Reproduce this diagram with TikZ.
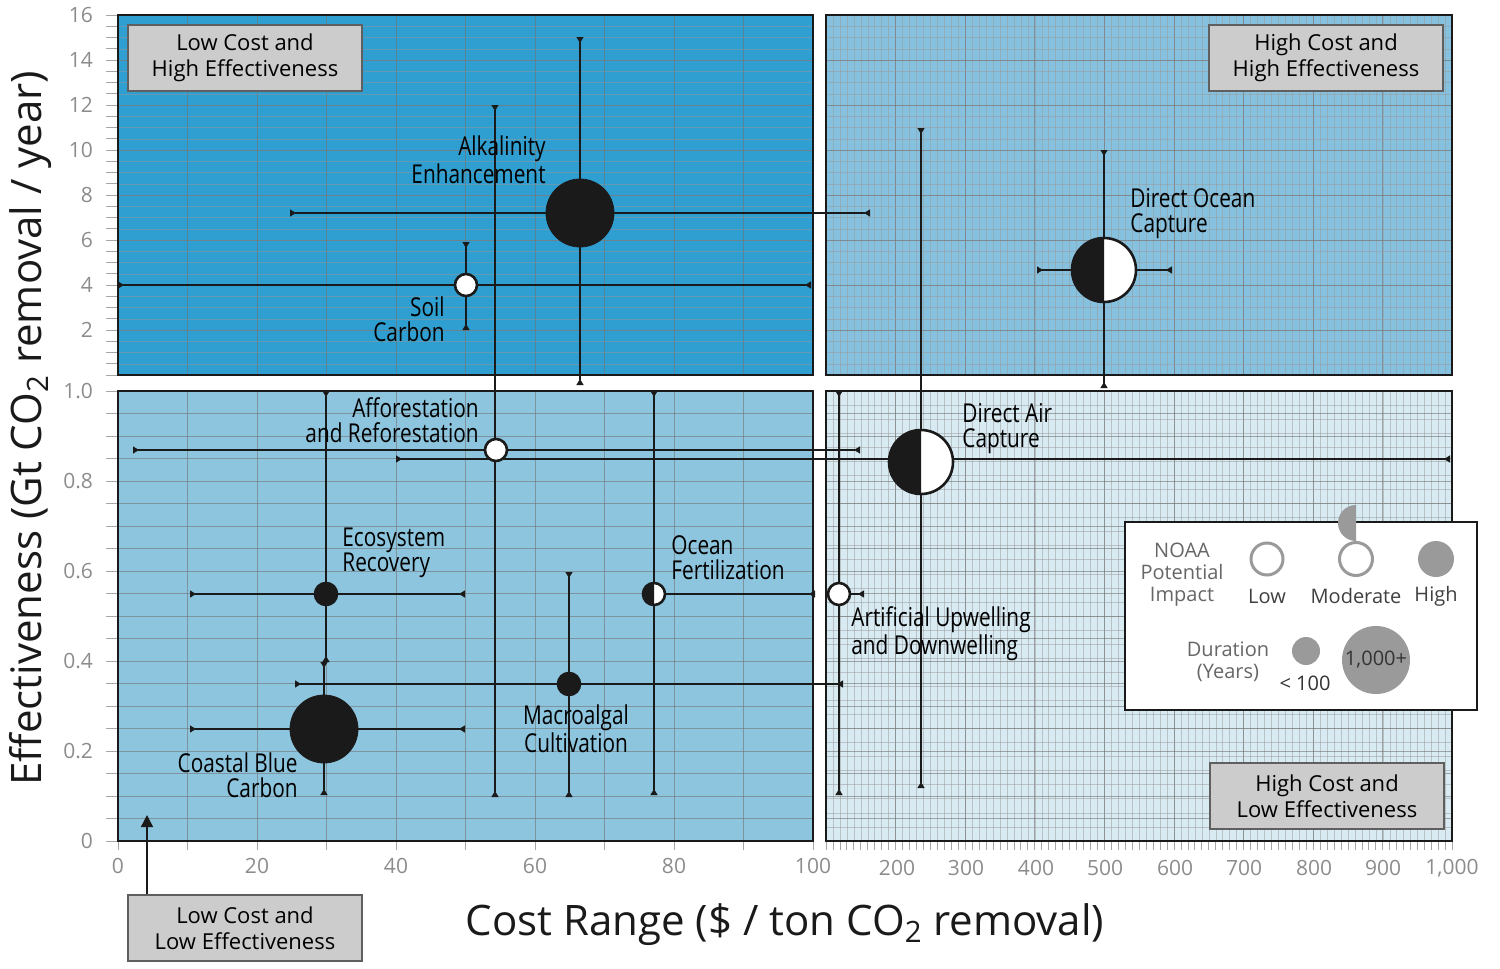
\documentclass[tikz,border=0pt]{standalone}
\usepackage{fontspec}
\setmainfont{Open Sans}
\newfontfamily\cond[FakeStretch=0.8]{Open Sans}
\usetikzlibrary{arrows.meta}
\definecolor{tlc}{HTML}{2E9FD0}
\definecolor{trc}{HTML}{86C2DF}
\definecolor{blc}{HTML}{8DC5DE}
\definecolor{brc}{HTML}{D8EBF3}
\definecolor{dk}{HTML}{1A1A1A}
\definecolor{lg}{HTML}{9A9A9A}
\tikzset{
 panel/.style={draw=dk,line width=1.2pt},
 gridd/.style={draw=black!55,line width=0.5pt,opacity=0.6},
 gridf/.style={draw=black!40,line width=0.25pt,opacity=0.5},
 errb/.style={draw=dk,line width=0.6pt,{Triangle[reversed,length=3pt,width=3.5pt]}-{Triangle[reversed,length=3pt,width=3.5pt]}},
 lab/.style={font=\cond\fontsize{13}{12.5}\selectfont,text=black,inner sep=1pt},
 corner/.style={draw=dk!70,fill=black!20,line width=0.8pt,font=\fontsize{11}{13}\selectfont,align=center,minimum width=117pt,minimum height=33pt,inner sep=2pt},
 tick/.style={font=\fontsize{10.5}{12}\selectfont,text=black!45},
 pt/.style={line width=1.3pt,draw=dk},
}
\begin{document}
\begin{tikzpicture}[x=0.5pt,y=-0.5pt]
\useasboundingbox (0,0) rectangle (1500,969);
% panels
\fill[tlc] (118,15) rectangle (813,375);
\fill[trc] (826,15) rectangle (1452,375);
\fill[blc] (118,391) rectangle (813,841);
\fill[brc] (826,391) rectangle (1452,841);
% grids left top
\foreach \k in {1,...,31} \draw[gridf] (118,15+11.25*\k) -- (813,15+11.25*\k);
\foreach \k in {1,...,7} \draw[gridd] (118,15+45*\k) -- (813,15+45*\k);
\foreach \k in {1,...,9} \draw[gridd] (118+69.5*\k,15) -- (118+69.5*\k,375);
% grids left bottom
\foreach \k in {1,...,19} \draw[gridd] (118,391+22.5*\k) -- (813,391+22.5*\k);
\foreach \k in {1,...,9} \draw[gridd] (118+69.5*\k,391) -- (118+69.5*\k,841);
% right panels fine grid
\foreach \k in {1,...,89} {
  \draw[gridf] (826+6.96*\k,15) -- (826+6.96*\k,375);
  \draw[gridf] (826+6.96*\k,391) -- (826+6.96*\k,841);}
\foreach \k in {1,...,8} {
  \draw[gridd] (826+69.6*\k,15) -- (826+69.6*\k,375);
  \draw[gridd] (826+69.6*\k,391) -- (826+69.6*\k,841);}
\foreach \k in {1,...,31} \draw[gridf] (826,15+11.25*\k) -- (1452,15+11.25*\k);
\foreach \k in {1,...,7} \draw[gridd] (826,15+45*\k) -- (1452,15+45*\k);
\foreach \k in {1,...,31} \draw[gridf] (826,391+14.06*\k) -- (1452,391+14.06*\k);
\foreach \k in {1,...,19} \draw[gridd] (826,391+22.5*\k) -- (1452,391+22.5*\k);
% axis tick marks
\foreach \k in {0,...,32} \draw[black!35,line width=0.4pt] (106,15+11.25*\k) -- (118,15+11.25*\k);
\foreach \k in {0,...,20} \draw[black!35,line width=0.4pt] (106,391+22.5*\k) -- (118,391+22.5*\k);
\foreach \k in {0,...,90} \draw[black!35,line width=0.4pt] (826+6.96*\k,841) -- (826+6.96*\k,850);
\foreach \k in {0,...,10} \draw[black!35,line width=0.4pt] (118+69.5*\k,841) -- (118+69.5*\k,850);
% panel borders
\draw[panel] (118,15) rectangle (813,375);
\draw[panel] (826,15) rectangle (1452,375);
\draw[panel] (118,391) rectangle (813,841);
\draw[panel] (826,391) rectangle (1452,841);
% tick labels
\foreach \v/\y in {16/15,14/60,12/105,10/150,8/195,6/240,4/285,2/330}
  \node[tick,anchor=east] (ty\v) at (100,\y) {\v};
\foreach \v/\y in {1.0/391,0.8/481,0.6/571,0.4/661,0.2/751,0/841}
  \node[tick,anchor=east] at (100,\y) {\v};
\foreach \v/\x in {0/118,20/257,40/396,60/535,80/674,100/813}
  \node[tick] at (\x,866) {\v};
\foreach \v/\x in {200/897,300/966,400/1036,500/1105,600/1175,700/1244,800/1314,900/1383,{1,000}/1452}
  \node[tick] at (\x,868) {\v};
% axis titles
\node[font=\fontsize{21}{24}\selectfont,text=dk] (xt) at (785,925) {Cost Range (\$ / ton CO\textsubscript{2} removal)};
\node[font=\fontsize{21}{24}\selectfont,text=dk,rotate=90] (yt) at (30,428) {Effectiveness (Gt CO\textsubscript{2} removal / year)};
% error bars
\draw[errb] (580,37) -- (580,385);
\draw[errb] (290,213) -- (870,213);
\draw[errb] (466,242) -- (466,330);
\draw[errb] (118,285) -- (811,285);
\draw[errb] (1104,150) -- (1104,388);
\draw[errb] (1037,270) -- (1172,270);
\draw[errb] (921,128) -- (921,788);
\draw[errb] (396,459) -- (1450,459);
\draw[errb] (495,105) -- (495,797);
\draw[errb] (133,450) -- (860,450);
\draw[errb] (326,391) -- (326,662);
\draw[errb] (190,594) -- (465,594);
\draw[errb] (654,391) -- (654,795);
\draw[errb] (654,594) -- (815,594);
\draw[errb] (839,391) -- (839,795);
\draw[errb] (839,594) -- (864,594);
\draw[errb] (569,572) -- (569,797);
\draw[errb] (295,684) -- (843,684);
\draw[errb] (324,662) -- (324,795);
\draw[errb] (190,729) -- (465,729);
% points
\node[circle,fill=dk,draw=dk,minimum size=34pt,inner sep=0] (alk) at (580,213) {};
\node[circle,fill=white,pt,minimum size=11pt,inner sep=0] (soil) at (466,285) {};
\node[circle,fill=white,pt,minimum size=11pt,inner sep=0] (aff) at (496,450) {};
\node[circle,fill=dk,pt,minimum size=11pt,inner sep=0] (eco) at (326,594) {};
\node[circle,fill=dk,pt,minimum size=11pt,inner sep=0] (mac) at (569,684) {};
\node[circle,fill=white,pt,minimum size=11pt,inner sep=0] (up) at (839,594) {};
\node[circle,fill=dk,draw=dk,minimum size=34pt,inner sep=0] (cbc) at (324,729) {};
% half circles
\foreach \n/\x/\y/\r in {doc/1104/270/32,dac/921/462/32,of/654/594/11} {
  \fill[white] (\x,\y) circle[radius=\r];
  \fill[dk] (\x,\y-\r) arc[start angle=-90,end angle=-270,radius=\r] -- cycle;
  \node[circle,pt,minimum size=\r pt,inner sep=0] (\n) at (\x,\y) {};
}
% labels
\node[lab,anchor=east,align=right] (lalk) at (548,160) {Alkalinity\\Enhancement};
\node[lab,anchor=east,align=right] (lsoil) at (447,319) {Soil\\Carbon};
\node[lab,anchor=west,align=left] (ldoc) at (1128,214) {Direct Ocean\\Capture};
\node[lab,anchor=west,align=left] (ldac) at (960,429) {Direct Air\\Capture};
\node[lab,anchor=east,align=right] (laff) at (481,420) {Afforestation\\and Reforestation};
\node[lab,anchor=west,align=left] (leco) at (340,553) {Ecosystem\\Recovery};
\node[lab,anchor=west,align=left] (lof) at (669,558) {Ocean\\Fertilization};
\node[lab,anchor=west,align=left] (lup) at (849,634) {Artificial Upwelling\\and Downwelling};
\node[lab,align=center] (lmac) at (576,729) {Macroalgal\\Cultivation};
\node[lab,anchor=east,align=right] (lcbc) at (300,775) {Coastal Blue\\Carbon};
% corner boxes
\node[corner] (c1) at (245,58) {Low Cost and\\High Effectiveness};
\node[corner] (c2) at (1326,58) {High Cost and\\High Effectiveness};
\node[corner] (c3) at (1327,796) {High Cost and\\Low Effectiveness};
\node[corner] (c4) at (245,928) {Low Cost and\\Low Effectiveness};
\coordinate (c4t) at (147,815);
\draw[dk,line width=0.7pt,-{Triangle[length=6pt,width=6pt]}] (c4.north -| c4t) -- (c4t);
% legend
\node[draw=dk,fill=white,line width=1.2pt,minimum width=176pt,minimum height=94pt,inner sep=0] (leg) at (1301,616) {};
\node[font=\fontsize{10}{11}\selectfont,text=black!60,align=center] (lt1) at (1182,575) {NOAA\\Potential\\Impact};
\node[circle,draw=lg,line width=1.5pt,minimum size=16pt,inner sep=0] (lo) at (1267,559) {};
\node[circle,fill=lg,minimum size=18pt,inner sep=0] (hi) at (1436,559) {};
\draw[lg,line width=1.5pt] (1356,559) circle[radius=16.5];
\fill[lg] (1356,541) arc[start angle=90,end angle=270,radius=18] -- cycle;
\node[font=\fontsize{10}{11}\selectfont,text=black!75] (tlo) at (1267,596) {Low};
\node[font=\fontsize{10}{11}\selectfont,text=black!75] (tmo) at (1356,596) {Moderate};
\node[font=\fontsize{10}{11}\selectfont,text=black!75] (thi) at (1436,596) {High};
\node[font=\fontsize{10}{11}\selectfont,text=black!60,align=center] (lt2) at (1228,662) {Duration\\(Years)};
\node[circle,fill=lg,minimum size=14pt,inner sep=0] (sm) at (1306,651) {};
\node[font=\fontsize{10}{11}\selectfont,text=black!80] (tsm) at (1305,683) {< 100};
\node[circle,fill=lg,minimum size=34pt,inner sep=0,font=\fontsize{10}{11}\selectfont,text=black!80] (bg) at (1376,660) {1,000+};
\end{tikzpicture}
\end{document}
